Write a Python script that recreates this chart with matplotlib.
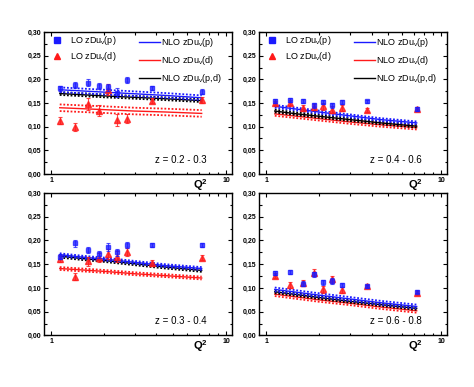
import numpy as np
import matplotlib
matplotlib.use("Agg")
import matplotlib.pyplot as plt
from matplotlib.ticker import FixedLocator, FuncFormatter, MultipleLocator, NullFormatter, LogLocator

plt.rcParams['font.family'] = ['Liberation Sans', 'DejaVu Sans']
plt.rcParams['mathtext.fontset'] = 'custom'
plt.rcParams['mathtext.rm'] = 'Liberation Sans'
plt.rcParams['mathtext.bf'] = 'Liberation Sans:bold'
plt.rcParams['mathtext.it'] = 'Liberation Sans:italic'

# ---- data ----
q2 = [1.12, 1.37, 1.62, 1.87, 2.12, 2.37, 2.71, 3.77, 7.25]
q2_curve = [1.12, 1.5, 2.0, 3.0, 4.5, 7.25]

z_labels = ["z = 0.2 - 0.3", "z = 0.4 - 0.6", "z = 0.3 - 0.4", "z = 0.6 - 0.8"]

# LO points (p, d) and errors, per panel
lo_p = [
    [0.181, 0.188, 0.193, 0.186, 0.183, 0.172, 0.198, 0.181, 0.174],
    [0.154, 0.156, 0.154, 0.145, 0.152, 0.145, 0.152, 0.154, 0.137],
    [0.166, 0.194, 0.180, 0.171, 0.186, 0.175, 0.190, 0.190, 0.190],
    [0.132, 0.134, 0.109, 0.129, 0.112, 0.115, 0.106, 0.104, 0.092],
]
lo_p_err = [
    [0.005, 0.006, 0.007, 0.007, 0.008, 0.009, 0.006, 0.004, 0.005],
    [0.004, 0.004, 0.005, 0.005, 0.005, 0.005, 0.004, 0.003, 0.004],
    [0.005, 0.007, 0.007, 0.007, 0.008, 0.008, 0.006, 0.004, 0.004],
    [0.004, 0.004, 0.005, 0.005, 0.005, 0.006, 0.004, 0.003, 0.003],
]
lo_d = [
    [0.113, 0.099, 0.148, 0.134, 0.178, 0.114, 0.117, 0.155, 0.157],
    [0.150, 0.151, 0.140, 0.142, 0.143, 0.136, 0.139, 0.136, 0.137],
    [0.162, 0.124, 0.156, 0.164, 0.172, 0.166, 0.176, 0.152, 0.164],
    [0.126, 0.106, 0.111, 0.132, 0.097, 0.118, 0.096, 0.104, 0.089],
]
lo_d_err = [
    [0.008, 0.009, 0.012, 0.011, 0.012, 0.013, 0.010, 0.006, 0.006],
    [0.005, 0.006, 0.006, 0.006, 0.007, 0.007, 0.006, 0.004, 0.004],
    [0.007, 0.008, 0.010, 0.010, 0.011, 0.012, 0.008, 0.006, 0.006],
    [0.005, 0.006, 0.006, 0.007, 0.007, 0.008, 0.006, 0.004, 0.004],
]

# NLO curves (p, d, p+d) and band half-widths
nlo_p = [
    [0.178, 0.1755, 0.173, 0.1695, 0.166, 0.161],
    [0.143, 0.137, 0.131, 0.123, 0.115, 0.108],
    [0.170, 0.165, 0.161, 0.154, 0.147, 0.141],
    [0.097, 0.091, 0.085, 0.077, 0.069, 0.061],
]
nlo_d = [
    [0.140, 0.138, 0.136, 0.133, 0.131, 0.128],
    [0.127, 0.122, 0.117, 0.110, 0.104, 0.098],
    [0.141, 0.138, 0.135, 0.130, 0.126, 0.121],
    [0.087, 0.081, 0.075, 0.068, 0.060, 0.052],
]
nlo_pd = [
    [0.170, 0.1675, 0.165, 0.162, 0.159, 0.155],
    [0.133, 0.127, 0.122, 0.115, 0.108, 0.101],
    [0.167, 0.162, 0.158, 0.151, 0.144, 0.137],
    [0.092, 0.086, 0.080, 0.072, 0.065, 0.057],
]
band_p = [0.005, 0.003, 0.003, 0.004]
band_d = [0.007, 0.004, 0.003, 0.004]
band_pd = [0.003, 0.003, 0.003, 0.003]

BLUE = '#1a1aff'
RED = '#ff1a1a'

fig = plt.figure(figsize=(4.74, 3.87), dpi=100)
rects = [
    [0.0928, 0.5504, 0.3966, 0.3669],
    [0.5464, 0.5504, 0.3966, 0.3669],
    [0.0928, 0.1331, 0.3966, 0.3682],
    [0.5464, 0.1331, 0.3966, 0.3682],
]

def comma(v, pos):
    return f"{v:.2f}".replace('.', ',')

for i, r in enumerate(rects):
    ax = fig.add_axes(r)
    ax.set_xscale('log')
    ax.set_xlim(0.91, 10.8)
    ax.set_ylim(0, 0.30)

    xc = np.array(q2_curve)
    for vals, bw, col, z in [(nlo_pd[i], band_pd[i], 'black', 3),
                             (nlo_p[i], band_p[i], BLUE, 4),
                             (nlo_d[i], band_d[i], RED, 2)]:
        v = np.array(vals)
        ax.plot(xc, v, color=col, lw=1.0, zorder=z)
        ax.plot(xc, v + bw, color=col, lw=1.3, ls=(0, (1, 1)), zorder=z)
        ax.plot(xc, v - bw, color=col, lw=1.3, ls=(0, (1, 1)), zorder=z)

    ax.errorbar(q2, lo_d[i], yerr=lo_d_err[i], fmt='^', color=RED, ms=4,
                capsize=1.5, elinewidth=0.8, capthick=0.8, alpha=0.8, zorder=5)
    ax.errorbar(q2, lo_p[i], yerr=lo_p_err[i], fmt='s', color=BLUE, ms=3.5,
                capsize=1.5, elinewidth=0.8, capthick=0.8, alpha=0.75, zorder=6)

    ax.xaxis.set_major_locator(FixedLocator([1, 10]))
    ax.xaxis.set_major_formatter(FuncFormatter(lambda v, p: f"{v:g}"))
    ax.xaxis.set_minor_locator(LogLocator(base=10, subs=np.arange(2, 10)))
    ax.xaxis.set_minor_formatter(NullFormatter())
    ax.yaxis.set_major_locator(MultipleLocator(0.05))
    ax.yaxis.set_minor_locator(MultipleLocator(0.025))
    ax.yaxis.set_major_formatter(FuncFormatter(comma))
    ax.tick_params(which='both', direction='in', top=True, right=True, width=0.8)
    ax.tick_params(which='major', length=3, labelsize=5, pad=2)
    ax.tick_params(which='minor', length=1.8)
    for lab in ax.get_xticklabels() + ax.get_yticklabels():
        lab.set_fontweight('bold')
    for s in ax.spines.values():
        s.set_linewidth(1.0)

    ax.text(0.73, 0.10, z_labels[i], transform=ax.transAxes, fontsize=7,
            ha='center', va='center')
    ax.text(0.83, -0.075, r'$\mathbf{Q^2}$', transform=ax.transAxes, fontsize=8,
            ha='center', va='center')

    if i < 2:
        leg1 = ax.legend([plt.Line2D([], [], ls='', marker='s', color=BLUE, ms=4),
                          plt.Line2D([], [], ls='', marker='^', color=RED, ms=4.5)],
                         [r'LO zDu$_\mathrm{v}$(p)', r'LO zDu$_\mathrm{v}$(d)'],
                         loc='upper left', bbox_to_anchor=(0.045, 0.985),
                         frameon=False, fontsize=6.5, borderpad=0, borderaxespad=0,
                         handlelength=1.0, handletextpad=0.9, labelspacing=0.35)
        ax.add_artist(leg1)
        ax.legend([plt.Line2D([], [], color=BLUE, lw=1),
                   plt.Line2D([], [], color=RED, lw=1),
                   plt.Line2D([], [], color='black', lw=1)],
                  [r'NLO zDu$_\mathrm{v}$(p)', r'NLO zDu$_\mathrm{v}$(d)',
                   r'NLO zDu$_\mathrm{v}$(p,d)'],
                  loc='upper left', bbox_to_anchor=(0.505, 0.97),
                  frameon=False, fontsize=6.5, borderpad=0, borderaxespad=0,
                  handlelength=2.3, handletextpad=0.15, labelspacing=0.55)

fig.savefig('out.png', dpi=100)
